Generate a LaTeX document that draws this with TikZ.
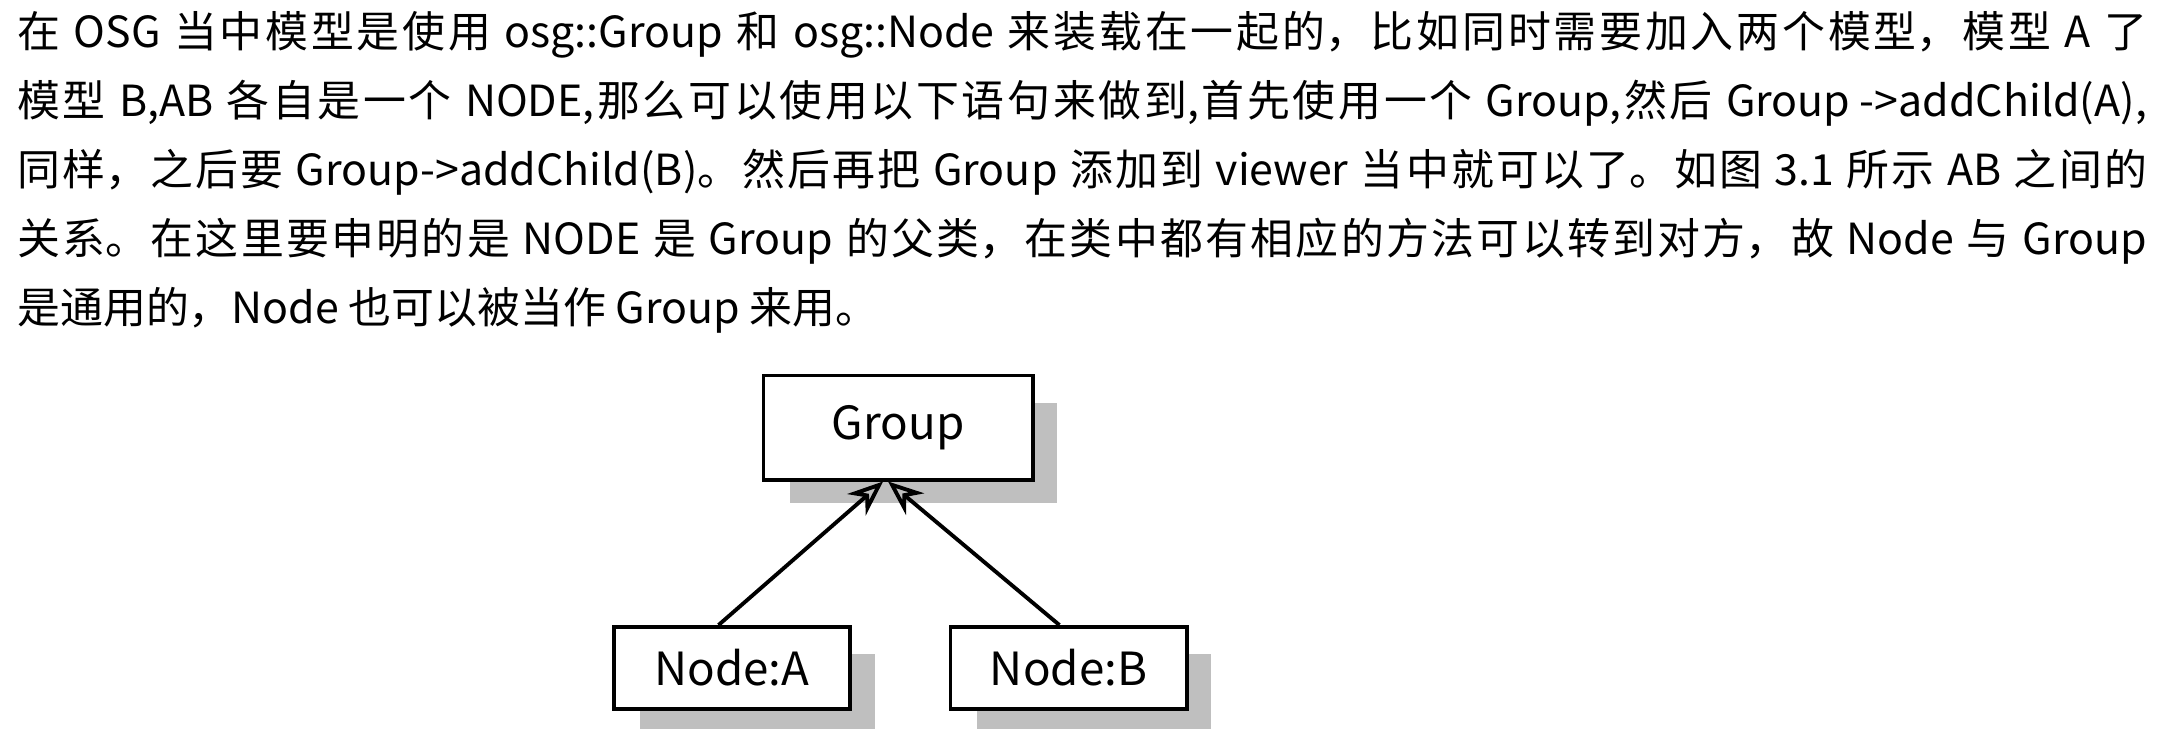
\documentclass[tikz,border=0pt]{standalone}
\usepackage{fontspec}
\setmainfont{Noto Sans CJK SC}
\usetikzlibrary{arrows.meta}
\XeTeXlinebreaklocale "zh"
\XeTeXlinebreakskip=0pt plus 1pt
\begin{document}
\begin{tikzpicture}[x=0.01386cm, y=-0.01386cm]
\tikzset{box/.style={draw=black, line width=1.1pt, fill=white, minimum width=#1, minimum height=0.82cm, font=\fontsize{13}{15}\selectfont}}
\tikzset{shade/.style={fill=black!25, draw=none}}
\tikzset{ar/.style={-{Stealth[length=10pt, width=8pt, open]}, line width=1.1pt}}
\useasboundingbox (0,0) rectangle (1560,526);
\clip (0,0) rectangle (1560,526);
% body text
\node[anchor=north west, inner sep=0, text width=21.29cm, align=justify,
  font=\fontsize{12.2}{19.6}\selectfont] (txt) at (12,8) {%
在 OSG 当中模型是使用 osg::Group 和 osg::Node 来装载在一起的，比如同时需要加入两个模型，模型 A 了\linebreak
模型 B,AB 各自是一个 NODE,那么可以使用以下语句来做到,首先使用一个 Group,然后 \mbox{Group ->addChild(A),}\linebreak
同样，之后要 \mbox{Group->addChild(B)}。然后再把 Group 添加到 viewer 当中就可以了。如图 3.1 所示 AB 之间的\linebreak
关系。在这里要申明的是 NODE 是 Group 的父类，在类中都有相应的方法可以转到对方，故 Node 与 Group\linebreak
是通用的，Node 也可以被当作 Group 来用。};
% shadows
\fill[shade] (570,291) rectangle (763,363);
\fill[shade] (462,472) rectangle (631,540);
\fill[shade] (705,472) rectangle (874,540);
% boxes
\node[box=2.69cm, minimum height=1.04cm] (grp) at (648,308.5) {Group};
\node[box=2.36cm] (na) at (528,482) {Node:A};
\node[box=2.36cm] (nb) at (771,482) {Node:B};
\draw[ar] (na.north west) ++(77,0) coordinate (a1) -- ([xshift=-0.15cm]grp.south);
\draw[ar] (nb.north west) ++(80,0) coordinate (b1) -- ([xshift=-0.1cm]grp.south);
\end{tikzpicture}
\end{document}
